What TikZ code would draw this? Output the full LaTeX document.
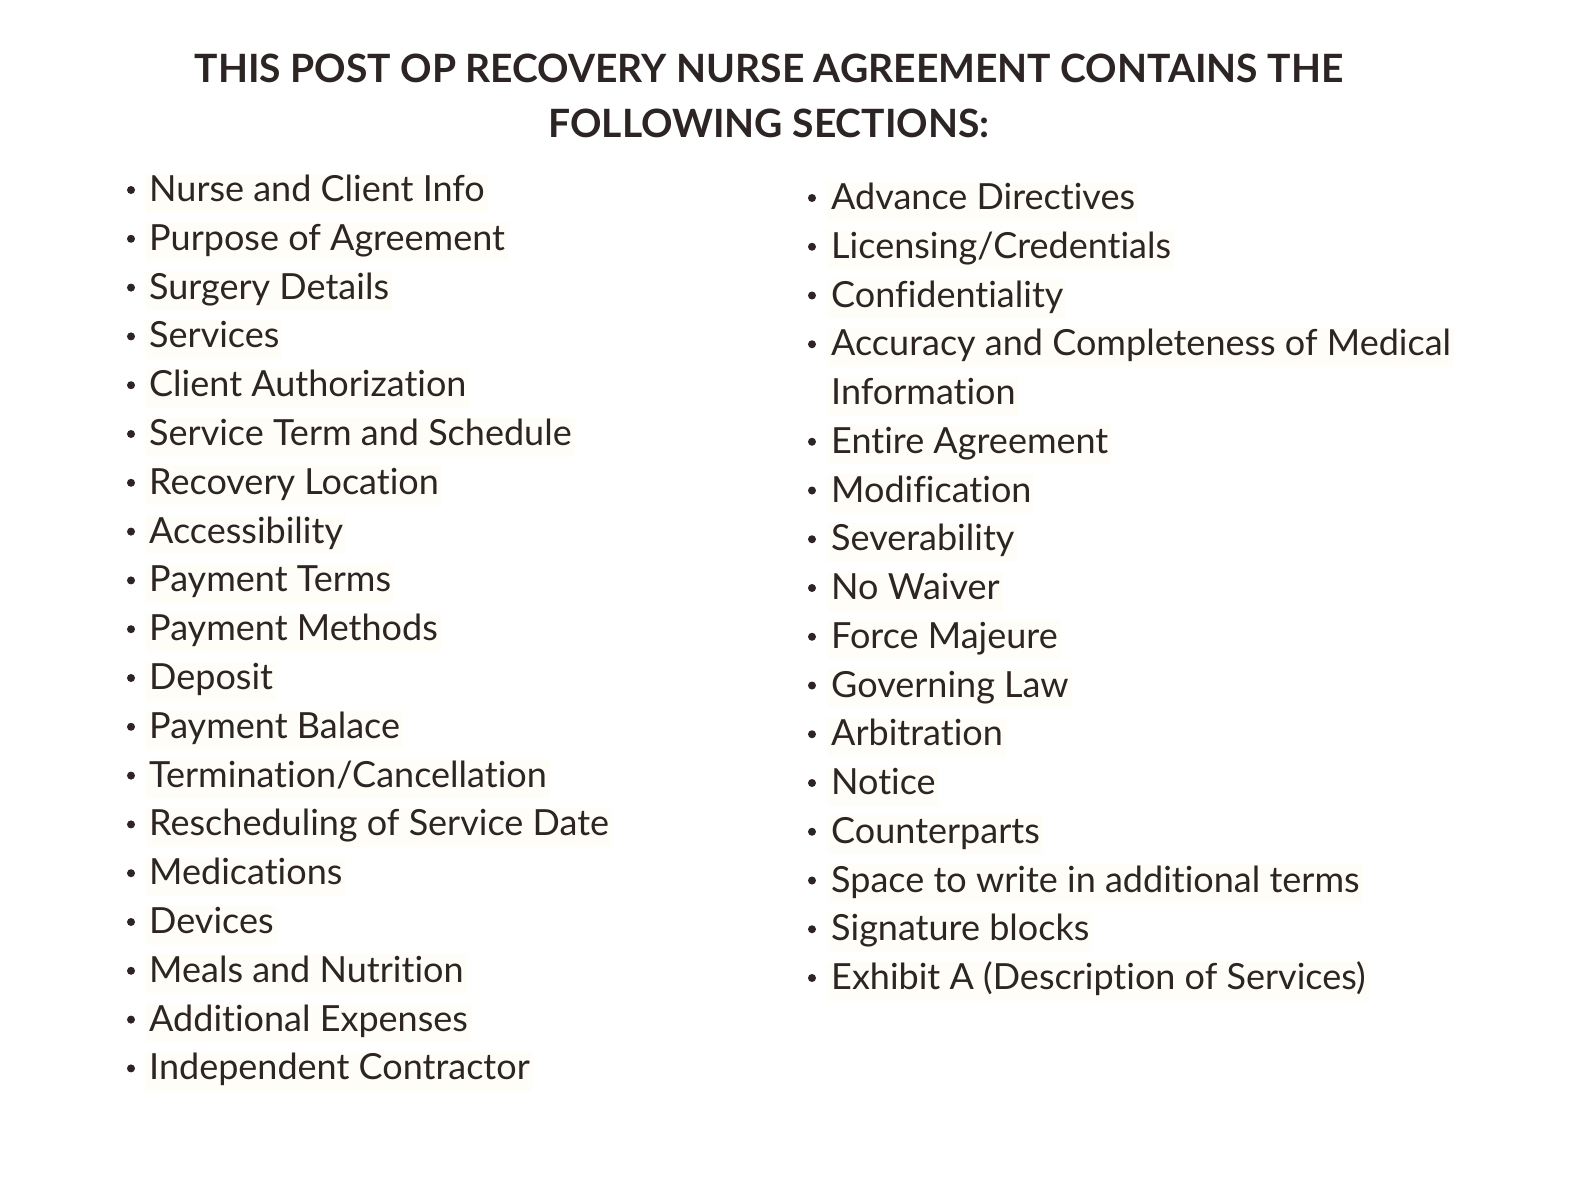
\documentclass[tikz,border=0pt]{standalone}
\usepackage{fontspec}
\setmainfont[Ligatures={NoCommon,NoRare}]{Lato}
\definecolor{ink}{HTML}{2D2424}
\definecolor{hl}{HTML}{FFFDF7}
\tikzset{item/.style={anchor=west,inner sep=3pt,fill=hl,text=ink,text height=25pt,text depth=8pt,font=\fontsize{36}{40}\selectfont},
 dot/.style={circle,fill=ink,inner sep=0pt,minimum size=8pt},
 title/.style={text=ink,font=\bfseries\fontsize{39}{44}\selectfont}}
\begin{document}
\begin{tikzpicture}[x=1pt,y=-1pt]
\useasboundingbox[fill=white] (0,0) rectangle (1588,1191);
\node[title] (t1) at (769,68) {THIS POST OP RECOVERY NURSE AGREEMENT CONTAINS THE};
\node[title] (t2) at (769,123) {FOLLOWING SECTIONS:};
\foreach \t [count=\i from 0] in {Nurse and Client Info,Purpose of Agreement,Surgery Details,Services,Client Authorization,Service Term and Schedule,Recovery Location,Accessibility,Payment Terms,Payment Methods,Deposit,Payment Balace,Termination/Cancellation,Rescheduling of Service Date,Medications,Devices,Meals and Nutrition,Additional Expenses,Independent Contractor}{
 \node[dot] (ld\i) at (131,{190+48.8*\i}) {};
 \node[item] (l\i) at (146,{193+48.8*\i}) {\t};
}
\foreach \t [count=\i from 0] in {Advance Directives,Licensing/Credentials,Confidentiality,Accuracy and Completeness of Medical,Information,Entire Agreement,Modification,Severability,No Waiver,Force Majeure,Governing Law,Arbitration,Notice,Counterparts,Space to write in additional terms,Signature blocks,Exhibit A (Description of Services)}{
 \ifnum\i=4\else\node[dot] (rd\i) at (812,{198+48.75*\i}) {};\fi
 \node[item] (r\i) at (828,{201+48.75*\i}) {\t};
}
\end{tikzpicture}
\end{document}
